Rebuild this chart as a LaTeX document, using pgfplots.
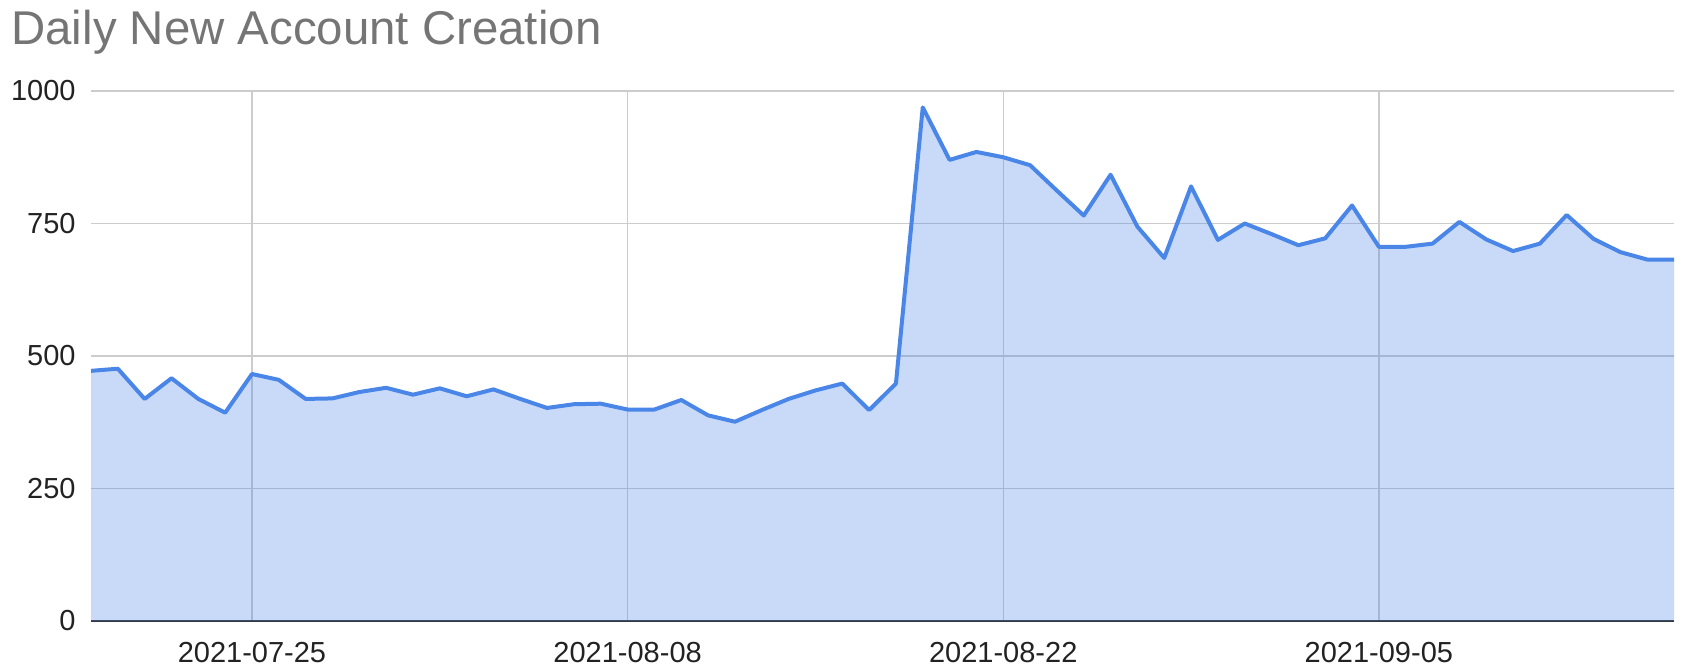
\documentclass[border=0pt]{standalone}
\usepackage{fontspec}
\setmainfont{Liberation Sans}
\usepackage{pgfplots}
\usepackage{pgfplotstable}
\pgfplotsset{compat=1.18}

\definecolor{lineblue}{HTML}{4A86E8}
\definecolor{gridgray}{HTML}{CCCCCC}
\definecolor{titlegray}{HTML}{757575}
\definecolor{labelcol}{HTML}{222222}
\definecolor{axiscol}{HTML}{333333}

% day index 0 = 2021-07-19
\pgfplotstableread{
day accounts
0  472
1  476
2  419
3  458
4  419
5  393
6  466
7  455
8  419
9  420
10 432
11 440
12 427
13 439
14 424
15 437
16 419
17 402
18 409
19 410
20 399
21 399
22 417
23 388
24 376
25 398
26 419
27 435
28 448
29 398
30 448
31 969
32 870
33 885
34 875
35 860
36 812
37 765
38 842
39 744
40 685
41 820
42 719
43 750
44 730
45 709
46 722
47 784
48 706
49 706
50 712
51 753
52 720
53 698
54 712
55 766
56 721
57 696
58 682
59 682
}\accounts

\begin{document}
\begin{tikzpicture}
\path[use as bounding box] (0,0) rectangle (848pt,335pt);
\node[anchor=base west, inner sep=0pt, text=titlegray,
  font=\fontsize{23.7}{28}\selectfont] at (5.5pt,312.5pt) {Daily New Account Creation};

\begin{axis}[
  at = {(45.5pt,24.5pt)},
  anchor = origin,
  scale only axis,
  width = 791.5pt,
  height = 265pt,
  xmin = 0, xmax = 59,
  ymin = 0, ymax = 1000,
  xtick = {6, 20, 34, 48},
  xticklabels = {2021-07-25, 2021-08-08, 2021-08-22, 2021-09-05},
  ytick = {0, 250, 500, 750, 1000},
  major tick length = 0pt,
  grid = major,
  major grid style = {gridgray, line width=0.65pt},
  axis x line = bottom,
  axis y line = left,
  x axis line style = {axiscol, line width=1pt, -},
  y axis line style = {draw=none},
  /pgf/number format/assume math mode = true,
  /pgf/number format/1000 sep = {},
  tick label style = {labelcol, font=\fontsize{14.5}{17}\selectfont},
  yticklabel style = {anchor=east, inner sep=0pt, xshift=-7.5pt},
  xticklabel style = {anchor=north, inner sep=0pt, yshift=-10.5pt},
  scaled ticks = false,
]

% filled area under the series
\addplot[draw=none, fill=lineblue, fill opacity=0.3]
  table [x=day, y=accounts] {\accounts} \closedcycle;

% the series line
\addplot[lineblue, line width=2pt, line join=round, mark=none]
  table [x=day, y=accounts] {\accounts};

\end{axis}
\end{tikzpicture}
\end{document}
